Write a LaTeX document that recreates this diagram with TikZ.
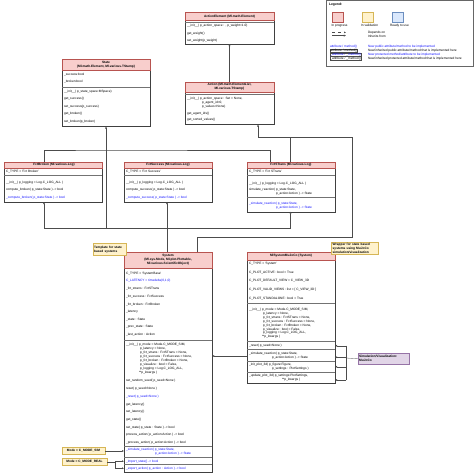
\documentclass[tikz,border=0pt]{standalone}
\usepackage{fontspec}
\setmainfont{Liberation Sans}[Ligatures=TeXOff]
\usetikzlibrary{arrows.meta}
\definecolor{hdrfill}{HTML}{F8CECC}
\definecolor{hdrline}{HTML}{B85450}
\definecolor{notefill}{HTML}{FFF2CC}
\definecolor{noteline}{HTML}{D6B656}
\definecolor{simfill}{HTML}{E1D5E7}
\definecolor{simline}{HTML}{9673A6}
\definecolor{bfill}{HTML}{DAE8FC}
\definecolor{bline}{HTML}{6C8EBF}
\definecolor{impl}{HTML}{1515FF}
\newcounter{rowc}
\newcommand\rw[4][tx]{\stepcounter{rowc}\node[#1] (row\arabic{rowc}) at (#2,#3) {#4};}
\newcommand\umlbox[6]{%
  \node[umlb, anchor=north west, minimum width={#4-#2}, minimum height={#5-#3}] (#1) at (#2,#3) {};
  \draw[hdr] (#2,#3) rectangle (#4,#6);}
\newcommand\sepline[3]{\draw[sepl] (#1,#3) -- (#2,#3);}
\begin{document}
\begin{tikzpicture}[x=1pt,y=-1pt,
  every node/.style={inner sep=0pt, outer sep=0pt},
  tx/.style={anchor=west, font=\fontsize{3.2}{3.8}\selectfont},
  bl/.style={tx, text=impl},
  hd/.style={anchor=center, font=\fontsize{3.2}{4.2}\selectfont\bfseries, align=center},
  umlb/.style={draw=black!75, fill=white, line width=0.35pt},
  hdr/.style={draw=hdrline, fill=hdrfill, line width=0.35pt},
  sepl/.style={draw=black!55, line width=0.3pt},
  note/.style={draw=noteline, fill=notefill, font=\fontsize{3.2}{4}\selectfont\bfseries, align=left, anchor=north west, inner sep=1.2pt},
  con/.style={draw=black!70, line width=0.3pt},
  arr/.style={con, -{Latex[length=2pt,width=1.8pt]}},
  inh/.style={con, -{Latex[length=2.2pt,width=2pt]}}
]
\useasboundingbox (0,0) rectangle (474,474);
\fill[white] (0,0) rectangle (474,474);

% ---------- Legend
\node[draw=black!60, fill=white, anchor=north west, minimum width=147.5, minimum height=65.5, line width=0.3pt] (legend) at (326,0.5) {};
\node[tx, font=\fontsize{3.4}{4}\selectfont\bfseries] (lgt) at (329,4.5) {Legend:};
\node[draw=hdrline, fill=hdrfill, anchor=north west, minimum width=11, minimum height=10] (sw1) at (332,12) {};
\node[draw=noteline, fill=notefill, anchor=north west, minimum width=11, minimum height=10] (sw2) at (362,12) {};
\node[draw=bline, fill=bfill, anchor=north west, minimum width=11, minimum height=10] (sw3) at (392,12) {};
\rw{331.5}{25.3}{In progress}
\rw{361}{25.3}{In validation}
\rw{390}{25.3}{Ready to use}
\coordinate (la1) at (332,32.4); \coordinate (la2) at (346,32.4);
\coordinate (lb1) at (332,35.6); \coordinate (lb2) at (346,35.6);
\draw[arr, dashed] (la1) -- (la2);
\draw[inh] (lb1) -- (lb2);
\rw{368}{32.4}{Depends on}
\rw{368}{36}{Inherits from}
\rw[bl]{330}{46.7}{attribute / method()}
\rw[tx, draw=black!70, inner sep=0.3pt]{330}{50.7}{attribute / method()}
\rw[bl, draw=black!70, inner sep=0.3pt]{330}{54.5}{\_attribute / \_method()}
\rw[tx, draw=black!70, inner sep=0.3pt]{330}{58.4}{\_attribute / \_method()}
\rw[bl]{368}{46.7}{New public attribute/method to be implemented}
\rw{368}{50.7}{New/inherited public attribute/method that is implemented here}
\rw[bl]{368}{54.5}{New protected method/attribute to be implemented}
\rw{368}{58.4}{New/inherited protected attribute/method that is implemented here}

% ---------- ActionElement
\umlbox{actel}{185}{12}{274}{44}{20.5}
\node[hd] (actelh) at (229.5,16.3) {ActionElement (Ml.math.Element)};
\sepline{185}{274}{22}
\rw{187}{25.7}{\_\_init\_\_( p\_action\_space : , p\_weight=1.0)}
\rw{187}{33.4}{get\_weight()}
\rw{187}{40.3}{set\_weight(p\_weight)}

% ---------- State
\umlbox{st}{62}{59}{150}{126.5}{70}
\node[hd] (sth) at (106,64.6) {State\\(Ml.math.Element, Ml.various.TStamp)};
\rw{64}{74.3}{\_success:bool}
\rw{64}{81.7}{\_broken:bool}
\sepline{62}{150}{86.7}
\rw{64}{91.6}{\_\_init\_\_( p\_state\_space:MSpace)}
\rw{64}{99}{get\_success()}
\rw{64}{106.5}{set\_success(p\_success)}
\rw{64}{114}{get\_broken()}
\rw{64}{121.6}{set\_broken(p\_broken)}

% ---------- Action
\umlbox{act}{185}{82}{274}{124.5}{92}
\node[hd] (acth) at (229.5,86.8) {Action (Ml.math.ElementList,\\Ml.various.TStamp)};
\sepline{185}{274}{94.5}
\rw{187}{99}{\_\_init\_\_( p\_action\_space : Set = None,}
\rw{202}{102.7}{p\_agent\_id=0,}
\rw{202}{106.4}{p\_values=None)}
\rw{187}{113.3}{get\_agent\_ids()}
\rw{187}{120}{get\_sorted\_values()}

% ---------- FctBroken
\umlbox{fb}{4}{162}{102}{202}{168}
\node[hd] (fbh) at (54,165) {FctBroken (Ml.various.Log)};
\rw{6}{171.7}{C\_TYPE = 'Fct Broken'}
\sepline{4}{102}{175}
\rw{6}{182.7}{\_\_init\_\_( p\_logging = Log.C\_LOG\_ALL )}
\rw{6}{190}{compute\_broken( p\_state:State ) -> bool}
\rw[bl]{6}{197.3}{\_compute\_broken( p\_state:State ) -> bool}

% ---------- FctSuccess
\umlbox{fs}{124}{162}{212}{202}{168}
\node[hd] (fsh) at (168,165) {FctSuccess (Ml.various.Log)};
\rw{126}{171.7}{C\_TYPE = 'Fct Success'}
\sepline{124}{212}{175}
\rw{126}{182.7}{\_\_init\_\_( p\_logging = Log.C\_LOG\_ALL )}
\rw{126}{190}{compute\_success( p\_state:State ) -> bool}
\rw[bl]{126}{197.3}{\_compute\_success( p\_state:State ) -> bool}

% ---------- FctSTrans
\umlbox{fst}{247}{162}{335}{211.7}{168}
\node[hd] (fsth) at (291,165) {FctSTrans (Ml.various.Log)};
\rw{249}{171.2}{C\_TYPE = 'Fct STrans'}
\sepline{247}{335}{175}
\rw{249}{183.3}{\_\_init\_\_( p\_logging = Log.C\_LOG\_ALL )}
\rw{249}{190}{simulate\_reaction( p\_state:State,}
\rw{276}{194}{p\_action:Action ) -> State}
\sepline{247}{335}{197.5}
\rw[bl]{249}{203.3}{\_simulate\_reaction( p\_state:State,}
\rw[bl]{276}{207.3}{p\_action:Action ) -> State}

% ---------- System
\umlbox{sys}{124}{252}{212}{472}{268}
\node[hd] (sysh) at (168,260) {System\\(Ml.sys.Mode, Ml.plot.Plottable,\\Ml.various.ScientificObject)};
\rw{126}{273.3}{C\_TYPE = 'SystemBase'}
\rw[bl]{126}{281}{C\_LATENCY = timedelta(0,1,0)}
\rw{126}{289}{\_fct\_strans : FctSTrans}
\rw{126}{296.7}{\_fct\_success : FctSuccess}
\rw{126}{304.3}{\_fct\_broken : FctBroken}
\rw{126}{311.8}{\_latency}
\rw{126}{319.4}{\_state : State}
\rw{126}{327.2}{\_prev\_state : State}
\rw{126}{335}{\_last\_action : Action}
\sepline{124}{212}{340}
\rw{126}{344.3}{\_\_init\_\_( p\_mode = Mode.C\_MODE\_SIM,}
\rw{140}{348.3}{p\_latency = None,}
\rw{140}{352.4}{p\_fct\_strans : FctSTrans = None,}
\rw{140}{356.5}{p\_fct\_success : FctSuccess = None,}
\rw{140}{360.6}{p\_fct\_broken : FctBroken = None,}
\rw{140}{364.7}{p\_visualize : bool = False,}
\rw{140}{368.8}{p\_logging = Log.C\_LOG\_ALL,}
\rw{139}{372.8}{**p\_kwargs )}
\rw{126}{380.7}{set\_random\_seed( p\_seed=None )}
\rw{126}{389}{reset( p\_seed=None )}
\rw[bl]{126}{396.7}{\_reset( p\_seed=None )}
\rw{126}{404.3}{get\_latency()}
\rw{126}{411.8}{set\_latency()}
\rw{126}{419.3}{get\_state()}
\rw{126}{427.2}{set\_state( p\_state : State ) -> bool}
\rw{126}{434.5}{process\_action( p\_action:Action ) -> bool}
\rw{126}{442.3}{\_process\_action( p\_action:Action ) -> bool}
\sepline{124}{212}{446.2}
\node[bl] (syssim) at (126,450) {\_simulate\_reaction( p\_state:State,};
\rw[bl]{155}{454}{p\_action:Action ) -> State}
\sepline{124}{212}{457.4}
\node[bl] (sysimp) at (126,461.2) {\_import\_state() -> bool};
\sepline{124}{212}{464.6}
\node[bl] (sysexp) at (126,468.3) {\_export\_action( p\_action : Action ) -> bool};

% ---------- MlSystemMuJoCo
\umlbox{mj}{247}{252}{335}{383.5}{260}
\node[hd] (mjh) at (291,256) {MlSystemMuJoCo (System)};
\rw{249}{264}{C\_TYPE = 'System'}
\rw{249}{272.4}{C\_PLOT\_ACTIVE : bool = True}
\rw{249}{280.8}{C\_PLOT\_DEFAULT\_VIEW = C\_VIEW\_3D}
\rw{249}{289.4}{C\_PLOT\_VALID\_VIEWS : list = [ C\_VIEW\_3D ]}
\rw{249}{298.2}{C\_PLOT\_STANDALONE : bool = True}
\sepline{247}{335}{303.3}
\rw{249}{309.3}{\_\_init\_\_( p\_mode = Mode.C\_MODE\_SIM,}
\rw{263}{313.3}{p\_latency = None,}
\rw{263}{317.3}{p\_fct\_strans : FctSTrans = None,}
\rw{263}{321.3}{p\_fct\_success : FctSuccess = None,}
\rw{263}{325.2}{p\_fct\_broken : FctBroken = None,}
\rw{263}{329.2}{p\_visualize : bool = False,}
\rw{263}{333.1}{p\_logging = Log.C\_LOG\_ALL,}
\rw{262}{337}{**p\_kwargs )}
\sepline{247}{335}{341.5}
\node[tx] (mjreset) at (249,345.7) {\_reset( p\_seed=None )};
\sepline{247}{335}{349.5}
\rw{249}{353.3}{\_simulate\_reaction( p\_state:State,}
\node[tx] (mjsim) at (272,357.3) {p\_action:Action ) -> State};
\sepline{247}{335}{361}
\rw{249}{364.6}{\_init\_plot\_3d( p\_figure:Figure,}
\rw{272}{368.6}{p\_settings : PlotSettings )}
\coordinate (mjinit) at (272,366.7);
\sepline{247}{335}{372.3}
\rw{249}{376}{\_update\_plot\_3d( p\_settings:PlotSettings,}
\node[tx] (mjupd) at (282,380) {**p\_kwargs )};

% ---------- Notes
\node[note, text width=31, minimum height=12] (ntpl) at (93,243.3) {Template for state\\based systems};
\node[note, text width=44.5, minimum height=12] (nwrap) at (331.5,241.7) {Wrapper for state based\\systems using MuJoCo\\simulation/visualization};
\node[note, anchor=north west, minimum width=43, minimum height=7] (msim) at (62,447.5) {Mode = C\_MODE\_SIM};
\node[note, anchor=north west, minimum width=45, minimum height=7] (mreal) at (62,458.5) {Mode = C\_MODE\_REAL};
\node[draw=simline, fill=simfill, anchor=north west, font=\fontsize{3.2}{4}\selectfont\bfseries, align=left, text width=49, inner sep=1.2pt, minimum height=11.5] (simv) at (358,353) {Simulation/Visualization:\\MuJoCo};

% ---------- Connectors
\draw[inh] (act.north) -- (actel.south);
% Fct* depend on State
\coordinate (upbus) at (106,150);
\draw[con] (fb.north -| 44,0) |- (upbus) -| (fst.north -| 270,0);
% System depends on Fct*, State
\coordinate (lowbus) at (167,228.3);
\draw[con] (sys.north -| 167,0) -- (lowbus);
\draw[arr] (lowbus) -- (fs.south -| 167,0);
\draw[arr] (lowbus) -| (fb.south -| 44,0);
\draw[arr] (lowbus) -| (fst.south -| 290.5,0);
\draw[arr] (lowbus -| 106,0) -- (st.south);
% Action dependencies
\coordinate (actbus) at (258,137);
\draw[arr] (fst.north -| 290.5,0) |- (actbus) -- (act.south -| 258,0);
\draw[con] (sys.north -| 197,0) |- (352,236.7) |- (actbus);
% inheritance
\draw[inh] (mj.west |- 0,356) -- (sys.east |- 0,356);
% modes
\draw[arr] (msim.east) -- (sys.west |- msim.east);
\coordinate (fork) at (115,462);
\draw[con] (mreal.east) -- (fork);
\draw[arr] (fork) |- (sys.west |- sysimp);
\draw[arr] (fork) |- (sys.west |- sysexp);
% MuJoCo links
\coordinate (simbus) at (346,358);
\draw[con] (simv.west) -- (simbus);
\draw[con] (simbus |- mjreset) -- (simbus |- mjupd);
\draw[arr] (simbus |- mjreset) -- (mj.east |- mjreset);
\draw[arr] (simbus |- mjsim) -- (mj.east |- mjsim);
\draw[arr] (simbus |- mjinit) -- (mj.east |- mjinit);
\draw[arr] (simbus |- mjupd) -- (mj.east |- mjupd);
\end{tikzpicture}
\end{document}
